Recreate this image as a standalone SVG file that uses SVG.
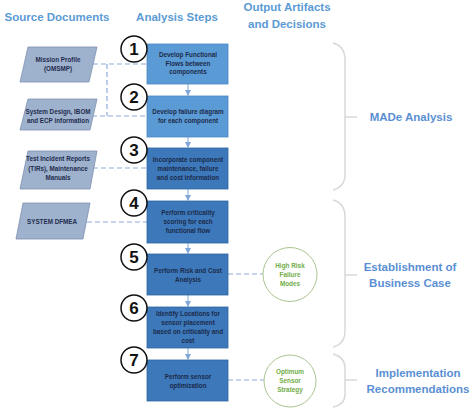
<svg xmlns="http://www.w3.org/2000/svg" width="474" height="412" viewBox="0 0 474 412">
<defs>
<style>
.hdr{font-family:"Liberation Sans",Arial,sans-serif;font-weight:bold;font-size:11.5px;fill:#5B9BD5;text-anchor:middle}
.lbl{font-family:"Liberation Sans",Arial,sans-serif;font-weight:bold;font-size:11.5px;fill:#5A8FD4;text-anchor:middle}
.bx1{fill:#5B9BD5;stroke:#4A86C0;stroke-width:0.8}
.bx2{fill:#3D79BA;stroke:#2F65A0;stroke-width:0.8}
.bt{font-family:"Liberation Sans",Arial,sans-serif;font-weight:bold;font-size:6.3px;fill:#1B2A4A;text-anchor:middle}
.par{fill:#9EB1CD;stroke:#7C90B0;stroke-width:0.8}
.pt{font-family:"Liberation Sans",Arial,sans-serif;font-weight:bold;font-size:6.3px;fill:#1F2D4D;text-anchor:middle}
.num{fill:#ffffff;stroke:#111111;stroke-width:1.5}
.nt{font-family:"Liberation Sans",Arial,sans-serif;font-weight:bold;font-size:17px;fill:#111111;text-anchor:middle}
.dash{fill:none;stroke:#8FAADC;stroke-width:1.2;stroke-dasharray:5,3}
.arr{fill:none;stroke:#7FA7D8;stroke-width:1;marker-end:url(#ah)}
.out{fill:#ffffff;stroke:#A9C58F;stroke-width:1}
.ot{font-family:"Liberation Sans",Arial,sans-serif;font-weight:bold;font-size:6.4px;fill:#70AD47;text-anchor:middle}
.brace{fill:none;stroke:#D9D9D9;stroke-width:1.5}
</style>
<marker id="ah" markerWidth="6" markerHeight="6" refX="5" refY="3" orient="auto" markerUnits="userSpaceOnUse">
<path d="M0,0 L6,3 L0,6 Z" fill="#7FA7D8"/>
</marker>
</defs>
<rect width="474" height="412" fill="#ffffff"/>

<g id="headers">
<text class="hdr" x="57" y="21">Source Documents</text>
<text class="hdr" x="177" y="21">Analysis Steps</text>
<text class="hdr" x="287" y="11">Output Artifacts</text>
<text class="hdr" x="287" y="28">and Decisions</text>
</g>

<g id="connectors">
<path class="dash" d="M93,64 H148"/>
<path class="dash" d="M107,64 V116"/>
<path class="dash" d="M92,116 H148"/>
<path class="dash" d="M93,168 H148"/>
<path class="dash" d="M87,222 H148"/>
<path class="dash" d="M228,274 H263"/>
<path class="dash" d="M228,380 H264"/>
<path class="arr" d="M188,84 V95"/>
<path class="arr" d="M188,137 V147"/>
<path class="arr" d="M188,189 V200"/>
<path class="arr" d="M188,243 V253"/>
<path class="arr" d="M188,295 V306"/>
<path class="arr" d="M188,348 V359"/>
</g>

<g id="src1">
<polygon class="par" points="28,47 97,47 89,82 20,82"/>
<text class="pt" x="58" y="62">Mission Profile</text>
<text class="pt" x="58" y="71">(OMSMP)</text>
</g>
<g id="src2">
<polygon class="par" points="28,99 97,99 90,130 20,130"/>
<text class="pt" x="58" y="114">System Design, IBOM</text>
<text class="pt" x="58" y="123">and ECP information</text>
</g>
<g id="src3">
<polygon class="par" points="28,151 97,151 90,189 20,189"/>
<text class="pt" x="58" y="161">Test Incident Reports</text>
<text class="pt" x="58" y="171">(TIRs), Maintenance</text>
<text class="pt" x="58" y="180">Manuals</text>
</g>
<g id="src4">
<polygon class="par" points="23,203 90,203 83,239 16,239"/>
<text class="pt" x="52" y="224">SYSTEM DFMEA</text>
</g>

<g id="step1">
<rect class="bx1" x="147" y="44" width="81" height="40"/>
<text class="bt" x="188" y="57">Develop Functional</text>
<text class="bt" x="188" y="65.5">Flows between</text>
<text class="bt" x="188" y="74">components</text>
<circle class="num" cx="134" cy="49" r="13"/>
<text class="nt" x="134" y="55">1</text>
</g>
<g id="step2">
<rect class="bx1" x="147" y="96" width="81" height="41"/>
<text class="bt" x="188" y="114">Develop failure diagram</text>
<text class="bt" x="188" y="122.5">for each component</text>
<circle class="num" cx="134" cy="97" r="13"/>
<text class="nt" x="134" y="103">2</text>
</g>
<g id="step3">
<rect class="bx2" x="147" y="148" width="81" height="41"/>
<text class="bt" x="188" y="162">Incorporate component</text>
<text class="bt" x="188" y="171">maintenance, failure</text>
<text class="bt" x="188" y="180">and cost information</text>
<circle class="num" cx="134" cy="150" r="13"/>
<text class="nt" x="134" y="156">3</text>
</g>
<g id="step4">
<rect class="bx2" x="147" y="201" width="81" height="42"/>
<text class="bt" x="188" y="215">Perform criticality</text>
<text class="bt" x="188" y="224">scoring for each</text>
<text class="bt" x="188" y="232.5">functional flow</text>
<circle class="num" cx="134" cy="203" r="13"/>
<text class="nt" x="134" y="209">4</text>
</g>
<g id="step5">
<rect class="bx2" x="147" y="254" width="81" height="41"/>
<text class="bt" x="188" y="273">Perform Risk and Cost</text>
<text class="bt" x="188" y="281.5">Analysis</text>
<circle class="num" cx="134" cy="257" r="13"/>
<text class="nt" x="134" y="263">5</text>
</g>
<g id="step6">
<rect class="bx2" x="147" y="307" width="81" height="41"/>
<text class="bt" x="188" y="316">Identify Locations for</text>
<text class="bt" x="188" y="325">sensor placement</text>
<text class="bt" x="188" y="334">based on criticality and</text>
<text class="bt" x="188" y="343">cost</text>
<circle class="num" cx="134" cy="308" r="13"/>
<text class="nt" x="134" y="314">6</text>
</g>
<g id="step7">
<rect class="bx2" x="147" y="360" width="81" height="41"/>
<text class="bt" x="188" y="379">Perform sensor</text>
<text class="bt" x="188" y="388">optimization</text>
<circle class="num" cx="134" cy="360" r="13"/>
<text class="nt" x="134" y="366">7</text>
</g>

<g id="out1">
<circle class="out" cx="290" cy="274.5" r="27"/>
<text class="ot" x="290" y="268">High Risk</text>
<text class="ot" x="290" y="277">Failure</text>
<text class="ot" x="290" y="286">Modes</text>
</g>
<g id="out2">
<circle class="out" cx="290" cy="381" r="26"/>
<text class="ot" x="290" y="374">Optimum</text>
<text class="ot" x="290" y="383">Sensor</text>
<text class="ot" x="290" y="392">Strategy</text>
</g>

<g id="brace1">
<path class="brace" d="M333,43 Q345,46 345,60 V174 Q345,187 333,190 M345,117 H357"/>
<text class="lbl" x="411" y="121">MADe Analysis</text>
</g>
<g id="brace2">
<path class="brace" d="M333,200 Q345,203 345,217 V331 Q345,344 333,347 M345,275 H357"/>
<text class="lbl" x="410" y="271">Establishment of</text>
<text class="lbl" x="410" y="287">Business Case</text>
</g>
<g id="brace3">
<path class="brace" d="M333,354 Q345,357 345,368 V394 Q345,405 333,407 M345,380 H357"/>
<text class="lbl" x="418" y="377">Implementation</text>
<text class="lbl" x="418" y="393">Recommendations</text>
</g>
</svg>
